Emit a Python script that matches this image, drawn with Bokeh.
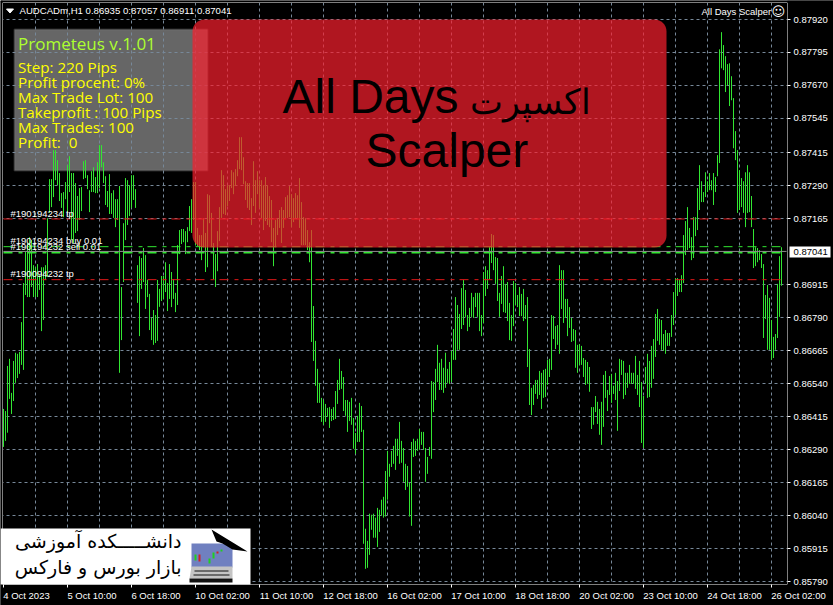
from bokeh.plotting import figure
from bokeh.models import Range1d, FixedTicker, NumeralTickFormatter, BoxAnnotation, Label, PolyAnnotation
from bokeh.embed import file_html
from bokeh.resources import INLINE

symbol_line = "AUDCADm,H1  0.86935 0:87057 0.86911 0.87041"
date_labels = ["4 Oct 2023", "5 Oct 10:00", "6 Oct 18:00", "10 Oct 02:00", "11 Oct 10:00", "12 Oct 18:00",
               "16 Oct 02:00", "17 Oct 10:00", "18 Oct 18:00", "20 Oct 02:00", "23 Oct 10:00", "24 Oct 18:00",
               "26 Oct 02:00"]
date_label_halfwidth_bars = [11.5, 12.25, 12.25, 13.5, 13.5, 13.5, 13.5, 13.5, 13.5, 13.5, 13.5, 13.5, 13.5]
price_ticks = [0.87920, 0.87795, 0.87670, 0.87545, 0.87415, 0.87290, 0.87165, 0.86915, 0.86790, 0.86665,
               0.86540, 0.86415, 0.86290, 0.86165, 0.86040, 0.85915, 0.85790]
tp_upper, tp_lower = 0.87164, 0.86934
buy_level, sell_level, current_price = 0.87059, 0.87037, 0.87041

bar_high = [
86444,86436,86607,86634,86505,86626,86657,86653,86660,86773,86921,87039,87073,87095,87084,86989,86981,86993,86951,86981,
86981,86989,87167,87315,87315,87425,87425,87387,87338,87262,87266,87304,87368,87402,87338,87338,87300,87251,87281,87285,
87383,87387,87330,87273,87345,87360,87323,87379,87444,87444,87379,87326,87270,87334,87262,87273,87239,87239,87289,86906,
87148,87319,87311,87292,87330,87330,87277,86989,87023,87016,87054,87027,86933,86880,86789,86819,86800,86933,86899,86948,
86948,87000,86921,86993,86963,86936,86884,87065,87122,87126,87126,87118,87133,87213,87239,87304,87304,87130,87103,87103,
87167,87111,87258,87254,87187,87073,87031,87118,87209,87349,87330,87277,87292,87292,87349,87341,87353,87387,87474,87474,
87398,87307,87300,87300,87243,87383,87311,87345,87311,87311,87292,87323,87292,87251,87236,87130,87160,87167,87198,87209,
87198,87247,87254,87289,87258,87243,87262,87254,87319,87228,87171,87167,87122,87076,87122,86834,86702,86596,86543,86486,
86478,86463,86448,86451,86444,86451,86512,86554,86634,86588,86565,86478,86478,86471,86486,86410,86353,86418,86467,86455,
86365,85990,85944,86047,86043,86047,86032,86069,86062,86100,86111,86209,86285,86236,86285,86304,86331,86331,86395,86323,
86296,86236,86228,86164,86319,86331,86323,86331,86368,86357,86357,86296,86262,86300,86550,86546,86596,86687,86619,86634,
86600,86657,86596,86622,86664,86747,86868,86838,86804,86902,86933,86895,86800,86827,86884,86868,86884,86884,86884,86800,
86963,86985,86970,87057,87107,87103,87020,87016,86884,86948,86985,86918,86925,86846,86800,86929,86921,86876,86906,86880,
86899,86838,86868,86671,86524,86535,86554,86554,86588,86581,86592,86596,86630,86634,86800,86796,86758,86762,86989,86970,
86970,86861,86861,86830,86789,86747,86743,86687,86690,86683,86637,86630,86622,86603,86451,86451,86493,86471,86444,86471,
86573,86588,86516,86569,86577,86532,86581,86550,86634,86630,86626,86581,86581,86611,86581,86581,86645,86573,86626,86546,
86493,86603,86653,86626,86683,86709,86804,86823,86785,86781,86728,86743,86732,86732,86800,86887,86940,86940,86933,86951,
87103,87156,87209,87130,87095,87171,87171,87281,87368,87307,87266,87341,87307,87338,87311,87338,87323,87406,87807,87872,
87823,87781,87751,87754,87705,87622,87497,87425,87349,87319,87307,87341,87368,87341,87251,87126,87057,87054,87046,87031,
86993,86876,86914,86865,86781,86717,86728,86918,87023,87057]
bar_low = [
86300,86323,86354,86482,86425,86474,86543,86561,86577,86611,86592,86876,86868,86868,86906,86868,86868,86868,86895,86739,
86781,86933,86944,87187,87209,87247,87311,87292,87232,87206,87171,87239,87187,87266,87084,87073,87111,87118,87160,87194,
87315,87319,87277,87190,87266,87266,87262,87262,87281,87360,87300,87217,87209,87183,87183,87168,87133,87160,86581,86705,
86925,87084,87141,87175,87206,87236,87206,86846,86720,86899,86925,86823,86868,86743,86705,86687,86694,86702,86831,86853,
86861,86887,86815,86861,86830,86861,86811,86838,87031,87069,87076,87031,87076,87118,87111,87160,87065,87061,87046,87008,
87057,86963,86981,87148,87061,86936,86906,86966,87080,87168,87183,87179,87213,87232,87281,87258,87289,87326,87353,87349,
87296,87236,87206,87198,87141,87213,87187,87258,87206,87167,87122,87156,87141,87133,87076,86985,87057,87103,87130,87073,
87130,87167,87167,87171,87133,87152,87164,87167,87130,87065,87065,87065,87046,87000,86698,86626,86532,86467,86467,86395,
86384,86395,86414,86372,86398,86402,86406,86463,86516,86520,86436,86418,86357,86398,86384,86293,86274,86319,86319,86357,
85933,85838,85842,85891,85986,85956,85956,85921,85978,86039,86032,86036,86100,86187,86224,86236,86213,86266,86236,86240,
86168,86137,86149,86036,86001,86262,86266,86285,86289,86308,86289,86168,86198,86266,86255,86432,86478,86546,86516,86516,
86505,86524,86543,86539,86546,86630,86630,86668,86668,86747,86762,86793,86739,86755,86793,86789,86830,86793,86739,86720,
86770,86872,86899,86936,86997,86970,86918,86853,86793,86842,86811,86808,86777,86705,86702,86758,86838,86830,86796,86796,
86777,86785,86603,86459,86421,86459,86501,86482,86497,86444,86486,86489,86535,86565,86592,86709,86671,86687,86653,86823,
86770,86789,86720,86751,86698,86702,86600,86581,86611,86611,86565,86535,86539,86509,86368,86384,86432,86387,86346,86308,
86376,86486,86436,86497,86467,86501,86478,86361,86512,86573,86482,86497,86524,86539,86539,86539,86520,86497,86451,86315,
86296,86539,86486,86489,86524,86558,86641,86702,86687,86668,86664,86653,86683,86683,86717,86762,86800,86872,86887,86887,
86921,87027,87046,87054,87008,87016,87099,87122,87198,87228,87228,87247,87266,87273,87273,87217,87266,87326,87376,87735,
87728,87645,87671,87592,87614,87432,87387,87187,87198,87209,87187,87133,87187,87190,87133,86978,86985,87000,87008,86978,
86713,86785,86668,86668,86630,86637,86668,86713,86793,86911]

n = len(bar_high)
bars_x = list(range(n))
high = [v / 1e5 for v in bar_high]
low = [v / 1e5 for v in bar_low]

# canvas pixel -> data helpers for decorations (the SVG canvas draws at pixel column sx)
def X(px):
    return (px - 3) / 2.0
def Y(py):
    return (87920 - (py - 19) * 3.79) / 1e5

W, H = 833, 605
p = figure(width=W, height=H, output_backend="svg", toolbar_location=None, y_axis_location="right",
           x_range=Range1d(X(0), X(W)), y_range=Range1d(Y(H), Y(0)),
           min_border_left=0, min_border_right=0, min_border_top=0, min_border_bottom=0,
           background_fill_color="#000000", border_fill_color="#000000", outline_line_color=None,
           margin=(0, 0, 0, 0))

GRID = "#778899"
xa, ya = p.xaxis[0], p.yaxis[0]
xa.fixed_location = Y(584)
ya.fixed_location = X(787)
date_ticks = [32 * k for k in range(len(date_labels))]
# labels start at their tick: they are centred half a label further right, the tick marks are the minor ticks
label_centres = [t + w for t, w in zip(date_ticks, date_label_halfwidth_bars)]
xa.ticker = FixedTicker(ticks=label_centres, minor_ticks=date_ticks)
xa.major_label_overrides = dict(zip(label_centres, date_labels))
xa.major_tick_line_color = None
xa.minor_tick_line_color = "#ffffff"
xa.minor_tick_out = 3
xa.minor_tick_in = 0
xa.major_tick_in = 0
xa.major_tick_out = 3
xa.major_label_standoff = 2
ya.ticker = FixedTicker(ticks=price_ticks)
ya.formatter = NumeralTickFormatter(format="0.00000")
ya.major_tick_line_color = "#ffffff"
ya.major_tick_in = 0
ya.major_tick_out = 3
ya.minor_tick_line_color = None
ya.major_label_standoff = 3
for a in (xa, ya):
    a.axis_line_color = None
    a.major_label_text_color = "#ffffff"
    a.major_label_text_font = "Liberation Sans"
    a.major_label_text_font_size = "9.5px"

p.xgrid.ticker = FixedTicker(ticks=[16 * k for k in range(1, 25)])
p.ygrid.ticker = FixedTicker(ticks=price_ticks)
for g in (p.xgrid, p.ygrid):
    g.grid_line_color = GRID
    g.grid_line_dash = "3 3"
    g.grid_line_width = 1

# grey info panel below grid and bars
p.add_layout(BoxAnnotation(left=X(14), right=X(207), top=Y(29), bottom=Y(170), fill_color="#666666", fill_alpha=1,
                           line_color="#808080", line_width=2, level="image"))

# black margins hide the grid outside the chart frame
for l, r, t, b in ((0, 2, 0, H), (0, W, 0, 2), (787, W, 0, H), (0, W, 584, H)):
    p.add_layout(BoxAnnotation(left=X(l), right=X(r), top=Y(t), bottom=Y(b), fill_color="#000000", fill_alpha=1,
                               line_color=None, level="glyph"))

# frame
p.segment([X(2), X(787), X(2), X(2)], [Y(2), Y(2), Y(2), Y(584)],
          [X(2), X(787), X(787), X(787)], [Y(584), Y(584), Y(2), Y(584)], line_color="#ffffff", line_width=1)

# bars
p.segment(bars_x, high, bars_x, low, line_color="#32E632", line_width=1)

DASH = "9 6 4 5"
def level_line(price, color, width, dash=DASH):
    p.line([X(3), X(786)], [price, price], line_color=color, line_width=width, line_dash=dash)
level_line(tp_upper, "#E01818", 1)
level_line(tp_lower, "#E01818", 1)
level_line(buy_level, "#32E632", 1)
level_line(sell_level, "#32E632", 2)
level_line(current_price, "#8C8C8C", 1, "solid")

def txt(s, px, py, color="#ffffff", size=10.0, font="Liberation Sans", align="left", **kw):
    p.add_layout(Label(x=X(px), y=Y(py - 0.375 * size), text=s, text_color=color, text_font_size=f"{size}px", text_font=font,
                       text_align=align, text_baseline="alphabetic", **kw))

# header, object labels
txt(symbol_line, 19, 14, size=9.6)
txt("All Days Scalper", 701, 15, size=9.5)
txt("\u263A", 771, 16, size=13, font="DejaVu Sans")
p.patch([X(6), X(13), X(9.5)], [Y(8.5), Y(8.5), Y(12.5)], fill_color="#ffffff", line_color="#ffffff")
txt("#190194234 tp", 10, 217, size=9.5)
txt("#190194234 buy 0.01", 10, 244, size=9.5)
txt("#190194232 sell 0.01", 10, 250, size=9.5)
txt("#190094232 tp", 10, 277, size=9.5)

# panel text
txt("Prometeus v.1.01", 17.5, 49, color="#ADFF2F", size=17, font="Open Sans")
panel_lines = ["Step: 220 Pips", "Profit procent: 0%", "Max Trade Lot: 100", "Takeprofit : 100 Pips",
               "Max Trades: 100", "Profit:\u00a0\u00a00"]
for line, base in zip(panel_lines, (72, 87, 102, 117, 132, 147)):
    txt(line, 17.5, base, color="#FFFF00", size=15.2, font="Open Sans")

# current price tag
p.add_layout(BoxAnnotation(left=X(789), right=X(830), top=Y(246), bottom=Y(257), fill_color="#ffffff", fill_alpha=1,
                           line_color=None, level="annotation"))
txt("0.87041", 793, 255, color="#000000", size=9.5)

# red banner
p.add_layout(BoxAnnotation(left=X(192), right=X(666), top=Y(19), bottom=Y(247), fill_color="#FB1F2E", fill_alpha=0.7,
                           line_color=None, border_radius=12, level="annotation"))
txt("All Days", 282, 114, color="#000000", size=48)
txt("\u0627\u06A9\u0633\u067E\u0631\u062A", 590, 114, color="#000000", size=35, align="right")
txt("Scalper", 365, 168, color="#000000", size=48)

# logo
p.add_layout(BoxAnnotation(left=X(0), right=X(250), top=Y(528), bottom=Y(584), fill_color="#ffffff", fill_alpha=1,
                           line_color=None, level="annotation"))
txt("\u062F\u0627\u0646\u0634\u0640\u0640\u0640\u0640\u0640\u06A9\u062F\u0647 \u0622\u0645\u0648\u0632\u0634\u06CC", 181, 548,
    color="#000000", size=19, font="DejaVu Sans", align="right")
txt("\u0628\u0627\u0632\u0627\u0631 \u0628\u0648\u0631\u0633 \u0648 \u0641\u0627\u0631\u06A9\u0633", 181, 574,
    color="#000000", size=19, font="DejaVu Sans", align="right")
def deco(pts, color):
    p.add_layout(PolyAnnotation(xs=[X(a) for a, _ in pts], ys=[Y(b) for _, b in pts],
                                fill_color=color, fill_alpha=1, line_color=None))
deco([(191, 543), (232, 543), (232, 567), (191, 567)], "#7080C0")
deco([(191, 566), (232, 566), (232, 578), (189, 578)], "#C4C4C4")
deco([(189, 578), (232, 578), (232, 582), (189, 582)], "#111111")
deco([(194, 570), (228, 570), (228, 571), (194, 571)], "#111111")
deco([(193, 574), (229, 574), (229, 575), (193, 575)], "#111111")
deco([(211, 529), (247, 551), (232, 549), (222, 543), (216, 541)], "#000000")
deco([(194, 560), (196, 560), (196, 554), (194, 554)], "#20D020")
deco([(198, 561), (200, 561), (200, 554), (198, 554)], "#D02020")
deco([(208, 563), (210, 563), (210, 558), (208, 558)], "#20D020")
deco([(212, 558), (214, 558), (214, 552), (212, 552)], "#20D020")
deco([(216, 553), (218, 553), (218, 551), (216, 551)], "#D02020")
deco([(220, 551), (222, 551), (222, 549), (220, 549)], "#20D020")

open("out.html", "w").write(file_html(p, INLINE))
